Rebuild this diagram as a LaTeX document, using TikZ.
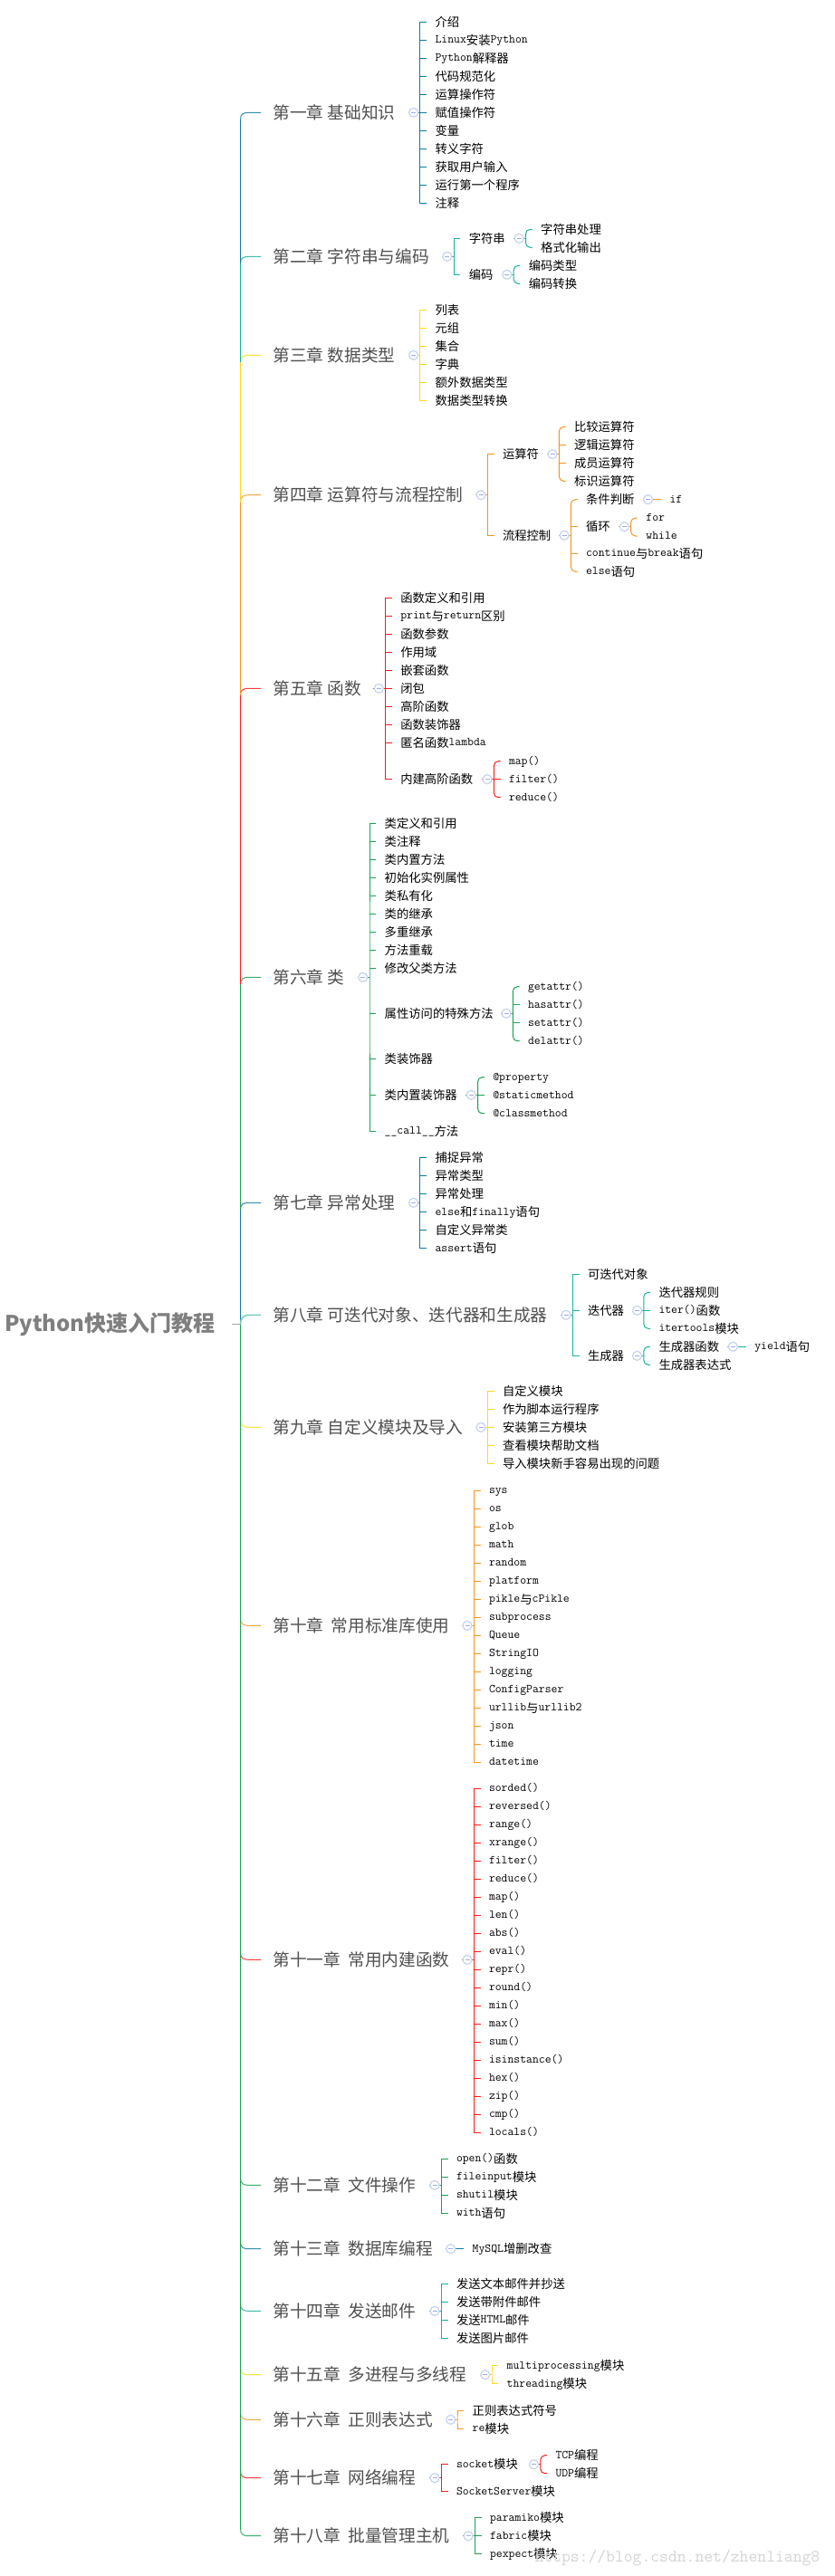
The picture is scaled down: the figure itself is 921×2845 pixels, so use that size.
\documentclass[tikz,border=0pt]{standalone}
\usepackage{fontspec}
\setmainfont{Noto Sans CJK SC}
\definecolor{cA}{HTML}{0F7C9E}
\definecolor{cB}{HTML}{17B29B}
\definecolor{cC}{HTML}{FFD91A}
\definecolor{cD}{HTML}{F7951E}
\definecolor{cE}{HTML}{FF1A1A}
\definecolor{cF}{HTML}{1AA350}
\definecolor{iconblue}{HTML}{C5D3F0}
\definecolor{chapgray}{HTML}{505050}
\definecolor{rootgray}{HTML}{7F7F7F}
\tikzset{
  leaf/.style={anchor=west,inner xsep=9pt,inner ysep=0pt,text height=12pt,text depth=2pt,text=black,font=\fontsize{13.33}{14}\selectfont},
  chapter/.style={anchor=west,inner xsep=13pt,inner ysep=0pt,text height=17pt,text depth=3pt,text=chapgray,font=\fontsize{18.67}{20}\selectfont},
  iconbox/.style={circle,draw=iconblue,fill=white,line width=1.2pt,minimum size=10pt,inner sep=0pt},
}
\newcommand\m[1]{{\ttfamily\fontsize{13.33}{14}\selectfont\raisebox{1.5pt}{#1}}}
\newcommand\lf[3]{\node[leaf] (#1) at (\ix+14.5,#2) {#3};}
% a collapse icon with its tick; x is kept in \ix for the leaves that follow
\newcommand\ic[3]{\def\ix{#2}
  \coordinate (#1-l) at (#2-6,#3);
  \coordinate (#1-r) at (#2+7.3,#3);
  \draw[draw=\cc] (#1-l) -- (#1-r);
  \node[iconbox] (#1) at (#2,#3) {};
  \draw[draw=iconblue!80!blue,line width=.8pt] ([xshift=-2.5pt]#1.center) -- ([xshift=2.5pt]#1.center);}
\newcommand\sq[3]{\draw[draw=\cc] (#2.west) -| (#1-r) |- (#3.west);}
\newcommand\rd[3]{\draw[draw=\cc,rounded corners=5pt] (#2.west) -| (#1-r) |- (#3.west);}
\newcommand\md[2]{\foreach \mm in {#2} {\draw[draw=\cc] (\mm.west) -- (\mm.west -| #1-r);}}
\newcommand\sng[2]{\draw[draw=\cc] (#1-r) -- (#2.west);}
% chapter node, with its branch from the trunk; #5 is +8 (above root) or -8 (below root)
\newcommand\chap[5]{\def\cc{#3}
  \node[chapter] (#1) at (288,#2) {#4};
  \coordinate (t#1) at (265.5,#2+#5);
  \draw[draw=#3!85] (t#1) .. controls (265.5,#2+#5*0.25) and (268,#2) .. (275,#2) -- (#1.west);}
\begin{document}
\begin{tikzpicture}[x=1pt,y=-1pt,line width=1pt]
\useasboundingbox[fill=white] (0,0) rectangle (921,2845);

\node[anchor=center,inner sep=0pt,text=rootgray,font=\bfseries\fontsize{24}{26}\selectfont] (root) at (121.5,1462.7) {Python快速入门教程};
\coordinate (join) at (265.5,1462.7);

% chapter 1
\chap{c1}{124.3}{cA}{第一章 基础知识}{8}
\ic{i1}{456.6}{124.3}
\lf{a1}{24.3}{介绍}
\lf{a2}{44.3}{\m{Linux}安装\m{Python}}
\lf{a3}{64.3}{\m{Python}解释器}
\lf{a4}{84.3}{代码规范化}
\lf{a5}{104.3}{运算操作符}
\lf{a6}{124.3}{赋值操作符}
\lf{a7}{144.3}{变量}
\lf{a8}{164.3}{转义字符}
\lf{a9}{184.3}{获取用户输入}
\lf{a10}{204.3}{运行第一个程序}
\lf{a11}{224.3}{注释}
\sq{i1}{a1}{a11}
\md{i1}{a2,a3,a4,a5,a6,a7,a8,a9,a10}

% chapter 2
\chap{c2}{283.3}{cB}{第二章 字符串与编码}{8}
\ic{i2}{493.8}{283.3}
\lf{b1}{263.3}{字符串}
\lf{b2}{303.3}{编码}
\sq{i2}{b1}{b2}
\ic{i2a}{573.2}{263.3}
\lf{b1a}{253.3}{字符串处理}
\lf{b1b}{273.3}{格式化输出}
\rd{i2a}{b1a}{b1b}
\ic{i2b}{559.8}{303.3}
\lf{b2a}{293.3}{编码类型}
\lf{b2b}{313.3}{编码转换}
\rd{i2b}{b2a}{b2b}

% chapter 3
\chap{c3}{392.3}{cC}{第三章 数据类型}{8}
\ic{i3}{456.6}{392.3}
\lf{d1}{342.7}{列表}
\lf{d2}{362.7}{元组}
\lf{d3}{382.7}{集合}
\lf{d4}{402.7}{字典}
\lf{d5}{422.7}{额外数据类型}
\lf{d6}{442.7}{数据类型转换}
\sq{i3}{d1}{d6}
\md{i3}{d2,d3,d4,d5}

% chapter 4
\chap{c4}{546.7}{cD}{第四章 运算符与流程控制}{8}
\ic{i4}{531}{546.7}
\lf{e1}{501.7}{运算符}
\lf{e2}{591.3}{流程控制}
\sq{i4}{e1}{e2}
\ic{i4a}{610}{501.7}
\lf{e1a}{471.3}{比较运算符}
\lf{e1b}{491.3}{逻辑运算符}
\lf{e1c}{511.3}{成员运算符}
\lf{e1d}{531.3}{标识运算符}
\rd{i4a}{e1a}{e1d}
\md{i4a}{e1b,e1c}
\ic{i4b}{623.1}{591.3}
\lf{e2a}{551.7}{条件判断}
\lf{e2b}{581.7}{循环}
\lf{e2c}{611.3}{\m{continue}与\m{break}语句}
\lf{e2d}{631.3}{\m{else}语句}
\rd{i4b}{e2a}{e2d}
\md{i4b}{e2b,e2c}
\ic{i4c}{715.5}{551.7}
\lf{e2a1}{551.7}{\m{if}}
\sng{i4c}{e2a1}
\ic{i4d}{689.4}{581.7}
\lf{e2b1}{572}{\m{for}}
\lf{e2b2}{592}{\m{while}}
\rd{i4d}{e2b1}{e2b2}

% chapter 5
\chap{c5}{760.3}{cE}{第五章 函数}{8}
\ic{i5}{418.3}{760.3}
\lf{f1}{660.3}{函数定义和引用}
\lf{f2}{680.3}{\m{print}与\m{return}区别}
\lf{f3}{700.3}{函数参数}
\lf{f4}{720.3}{作用域}
\lf{f5}{740.3}{嵌套函数}
\lf{f6}{760.3}{闭包}
\lf{f7}{780.3}{高阶函数}
\lf{f8}{800.3}{函数装饰器}
\lf{f9}{820.3}{匿名函数\m{lambda}}
\lf{f10}{860.7}{内建高阶函数}
\sq{i5}{f1}{f10}
\md{i5}{f2,f3,f4,f5,f6,f7,f8,f9}
\ic{i5a}{538}{860.7}
\lf{f10a}{840.7}{\m{map()}}
\lf{f10b}{860.7}{\m{filter()}}
\lf{f10c}{880.7}{\m{reduce()}}
\rd{i5a}{f10a}{f10c}
\md{i5a}{f10b}

% chapter 6
\chap{c6}{1079.3}{cF}{第六章 类}{8}
\ic{i6}{400.7}{1079.3}
\lf{g1}{909.7}{类定义和引用}
\lf{g2}{929.7}{类注释}
\lf{g3}{949.7}{类内置方法}
\lf{g4}{969.7}{初始化实例属性}
\lf{g5}{989.7}{类私有化}
\lf{g6}{1009.7}{类的继承}
\lf{g7}{1029.7}{多重继承}
\lf{g8}{1049.7}{方法重载}
\lf{g9}{1069.7}{修改父类方法}
\lf{g10}{1119.3}{属性访问的特殊方法}
\lf{g11}{1169.3}{类装饰器}
\lf{g12}{1209.3}{类内置装饰器}
\lf{g13}{1249.3}{\m{\_\_call\_\_}方法}
\sq{i6}{g1}{g13}
\md{i6}{g2,g3,g4,g5,g6,g7,g8,g9,g10,g11,g12}
\ic{i6a}{559}{1119.3}
\lf{g10a}{1089.7}{\m{getattr()}}
\lf{g10b}{1109.7}{\m{hasattr()}}
\lf{g10c}{1129.7}{\m{setattr()}}
\lf{g10d}{1149.7}{\m{delattr()}}
\rd{i6a}{g10a}{g10d}
\md{i6a}{g10b,g10c}
\ic{i6b}{520.3}{1209.3}
\lf{g12a}{1189.7}{\m{@property}}
\lf{g12b}{1209.7}{\m{@staticmethod}}
\lf{g12c}{1229.7}{\m{@classmethod}}
\rd{i6b}{g12a}{g12c}
\md{i6b}{g12b}

% chapter 7
\chap{c7}{1328.3}{cA}{第七章 异常处理}{8}
\ic{i7}{456.6}{1328.3}
\lf{h1}{1278.7}{捕捉异常}
\lf{h2}{1298.7}{异常类型}
\lf{h3}{1318.7}{异常处理}
\lf{h4}{1338.7}{\m{else}和\m{finally}语句}
\lf{h5}{1358.7}{自定义异常类}
\lf{h6}{1378.7}{\m{assert}语句}
\sq{i7}{h1}{h6}
\md{i7}{h2,h3,h4,h5}

% trunk above the root, segment by segment
\draw[draw=cA] (tc1) -- (tc2);
\draw[draw=cB] (tc2) -- (tc3);
\draw[draw=cC] (tc3) -- (tc4);
\draw[draw=cD] (tc4) -- (tc5);
\draw[draw=cE] (tc5) -- (tc6);
\draw[draw=cF] (tc6) -- (tc7);
\draw[draw=cA] (tc7) -- (join);

% chapter 8
\def\cc{cB}
\node[chapter] (c8) at (288,1452.3) {第八章 可迭代对象、迭代器和生成器};
\draw[draw=cB!60,line width=1.6pt] (join) .. controls (265.5,1456) and (268,1452.3) .. (276,1452.3) -- (c8.west);
\ic{i8}{625}{1452.3}
\lf{k1}{1407.3}{可迭代对象}
\lf{k2}{1447.3}{迭代器}
\lf{k3}{1497.3}{生成器}
\sq{i8}{k1}{k3}
\md{i8}{k2}
\ic{i8a}{703.5}{1447.3}
\lf{k2a}{1427.3}{迭代器规则}
\lf{k2b}{1447.3}{\m{iter()}函数}
\lf{k2c}{1467.3}{\m{itertools}模块}
\rd{i8a}{k2a}{k2c}
\md{i8a}{k2b}
\ic{i8b}{703.5}{1497.3}
\lf{k3a}{1487.3}{生成器函数}
\lf{k3b}{1507.3}{生成器表达式}
\rd{i8b}{k3a}{k3b}
\ic{i8c}{809.3}{1487.3}
\lf{k3a1}{1487.3}{\m{yield}语句}
\sng{i8c}{k3a1}

% chapter 9
\chap{c9}{1576.3}{cC}{第九章 自定义模块及导入}{-8}
\ic{i9}{531}{1576.3}
\lf{n1}{1536.3}{自定义模块}
\lf{n2}{1556.3}{作为脚本运行程序}
\lf{n3}{1576.3}{安装第三方模块}
\lf{n4}{1596.3}{查看模块帮助文档}
\lf{n5}{1616.3}{导入模块新手容易出现的问题}
\sq{i9}{n1}{n5}
\md{i9}{n2,n3,n4}

% chapter 10
\chap{c10}{1795.3}{cD}{第十章~~常用标准库使用}{-8}
\ic{i10}{516}{1795.3}
\lf{p1}{1646}{\m{sys}}
\lf{p2}{1666}{\m{os}}
\lf{p3}{1686}{\m{glob}}
\lf{p4}{1706}{\m{math}}
\lf{p5}{1726}{\m{random}}
\lf{p6}{1746}{\m{platform}}
\lf{p7}{1766}{\m{pikle}与\m{cPikle}}
\lf{p8}{1786}{\m{subprocess}}
\lf{p9}{1806}{\m{Queue}}
\lf{p10}{1826}{\m{StringIO}}
\lf{p11}{1846}{\m{logging}}
\lf{p12}{1866}{\m{ConfigParser}}
\lf{p13}{1886}{\m{urllib}与\m{urllib2}}
\lf{p14}{1906}{\m{json}}
\lf{p15}{1926}{\m{time}}
\lf{p16}{1946}{\m{datetime}}
\sq{i10}{p1}{p16}
\md{i10}{p2,p3,p4,p5,p6,p7,p8,p9,p10,p11,p12,p13,p14,p15}

% chapter 11
\chap{c11}{2164.3}{cE}{第十一章~~常用内建函数}{-8}
\ic{i11}{516}{2164.3}
\lf{q1}{1975}{\m{sorded()}}
\lf{q2}{1995}{\m{reversed()}}
\lf{q3}{2015}{\m{range()}}
\lf{q4}{2035}{\m{xrange()}}
\lf{q5}{2055}{\m{filter()}}
\lf{q6}{2075}{\m{reduce()}}
\lf{q7}{2095}{\m{map()}}
\lf{q8}{2115}{\m{len()}}
\lf{q9}{2135}{\m{abs()}}
\lf{q10}{2155}{\m{eval()}}
\lf{q11}{2175}{\m{repr()}}
\lf{q12}{2195}{\m{round()}}
\lf{q13}{2215}{\m{min()}}
\lf{q14}{2235}{\m{max()}}
\lf{q15}{2255}{\m{sum()}}
\lf{q16}{2275}{\m{isinstance()}}
\lf{q17}{2295}{\m{hex()}}
\lf{q18}{2315}{\m{zip()}}
\lf{q19}{2335}{\m{cmp()}}
\lf{q20}{2355}{\m{locals()}}
\sq{i11}{q1}{q20}
\md{i11}{q2,q3,q4,q5,q6,q7,q8,q9,q10,q11,q12,q13,q14,q15,q16,q17,q18,q19}

% chapter 12
\chap{c12}{2413.3}{cF}{第十二章~~文件操作}{-8}
\ic{i12}{480}{2413.3}
\lf{r1}{2384}{\m{open()}函数}
\lf{r2}{2404}{\m{fileinput}模块}
\lf{r3}{2424}{\m{shutil}模块}
\lf{r4}{2444}{\m{with}语句}
\sq{i12}{r1}{r4}
\md{i12}{r2,r3}

% chapter 13
\chap{c13}{2483.7}{cA}{第十三章~~数据库编程}{-8}
\ic{i13}{497.7}{2483.7}
\lf{s1}{2483.7}{\m{MySQL}增删改查}
\sng{i13}{s1}

% chapter 14
\chap{c14}{2552.3}{cB}{第十四章~~发送邮件}{-8}
\ic{i14}{480}{2552.3}
\lf{u1}{2522.3}{发送文本邮件并抄送}
\lf{u2}{2542.3}{发送带附件邮件}
\lf{u3}{2562.3}{发送\m{HTML}邮件}
\lf{u4}{2582.3}{发送图片邮件}
\sq{i14}{u1}{u4}
\md{i14}{u2,u3}

% chapter 15
\chap{c15}{2622.7}{cC}{第十五章~~多进程与多线程}{-8}
\ic{i15}{535.7}{2622.7}
\lf{v1}{2612.7}{\m{multiprocessing}模块}
\lf{v2}{2632.7}{\m{threading}模块}
\sq{i15}{v1}{v2}

% chapter 16
\chap{c16}{2672.3}{cD}{第十六章~~正则表达式}{-8}
\ic{i16}{497.7}{2672.3}
\lf{w1}{2662.3}{正则表达式符号}
\lf{w2}{2682.3}{\m{re}模块}
\sq{i16}{w1}{w2}

% chapter 17
\chap{c17}{2736.7}{cE}{第十七章~~网络编程}{-8}
\ic{i17}{480}{2736.7}
\lf{y1}{2721.7}{\m{socket}模块}
\lf{y2}{2751.7}{\m{SocketServer}模块}
\sq{i17}{y1}{y2}
\ic{i17a}{589.5}{2721.7}
\lf{y1a}{2711.7}{\m{TCP}编程}
\lf{y1b}{2731.7}{\m{UDP}编程}
\rd{i17a}{y1a}{y1b}

% chapter 18
\chap{c18}{2800.7}{cF}{第十八章~~批量管理主机}{-8}
\ic{i18}{517.1}{2800.7}
\lf{z1}{2780.7}{\m{paramiko}模块}
\lf{z2}{2800.7}{\m{fabric}模块}
\lf{z3}{2820.7}{\m{pexpect}模块}
\sq{i18}{z1}{z3}
\md{i18}{z2}

% trunk below the root, and the root stub
\draw[draw=cF] (join) -- (tc18);
\draw[draw=black!35,line width=1.2pt,shorten <=18pt] (root.east) -- (join);

\node[anchor=west,inner sep=0pt,text=black!17] (mark) at (590,2825) {\ttfamily\fontsize{19.1}{20}\selectfont https://blog.csdn.net/zhenliang8};
\end{tikzpicture}
\end{document}
